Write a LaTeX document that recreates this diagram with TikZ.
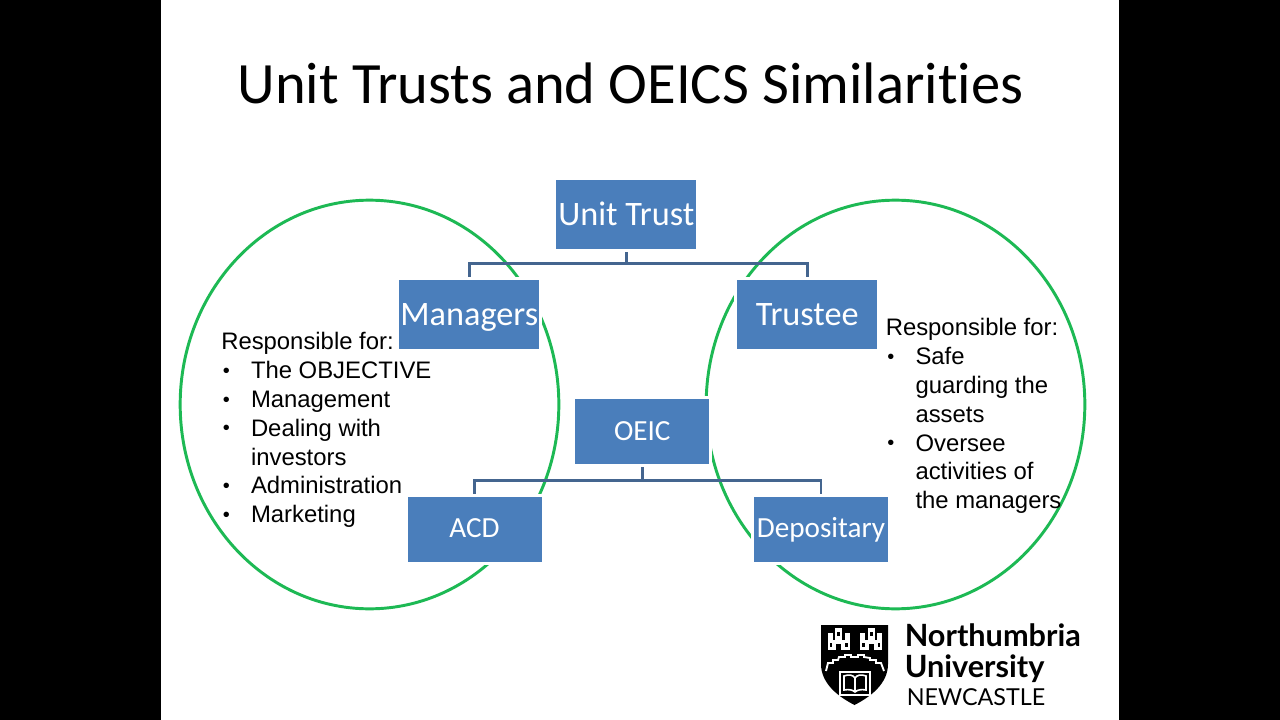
\documentclass[tikz,border=0pt]{standalone}
\usepackage{fontspec}
\setmainfont{Carlito}[Ligatures=NoCommon]
\newfontfamily\arialfont{Liberation Sans}
\newfontfamily\logofont{Lato}
\usetikzlibrary{shapes.geometric}
\definecolor{boxblue}{HTML}{4A7EBB}
\definecolor{linkblue}{HTML}{44658F}
\definecolor{ringgreen}{HTML}{1DB954}
\newcommand{\bul}{\makebox[22.3pt][l]{\hspace{1.2pt}\raisebox{0.9pt}{\fontsize{15}{15}\selectfont•}}}
\tikzset{
  x=0.75pt,y=-0.75pt,
  ring/.style={ellipse,draw=ringgreen,line width=2.2pt,minimum width=284pt,minimum height=306.5pt,inner sep=0pt},
  link/.style={draw=linkblue,line width=2.2pt},
  orgbox/.style={rectangle,fill=boxblue,draw=white,line width=2.25pt,inner sep=0pt,text=white},
  bigbox/.style={orgbox,minimum width=107.25pt,minimum height=54pt,text height=19pt,text depth=1.8pt,font=\fontsize{25.7}{28}\selectfont},
  smallbox/.style={orgbox,minimum width=102.75pt,minimum height=51pt,text height=14pt,text depth=1.4pt,font=\fontsize{21.9}{24}\selectfont},
  note/.style={anchor=north west,align=left,inner sep=0pt,font=\arialfont\fontsize{17.9}{21.65}\selectfont},
  logotext/.style={anchor=base west,inner sep=0pt,text=black},
}
\begin{document}
\begin{tikzpicture}
\useasboundingbox (0,0) rectangle (1280,720);
\fill[black] (0,0) rectangle (1280,720);
\fill[white] (161,0) rectangle (1119,720);

\node[anchor=base,inner sep=0pt,font=\fontsize{43.9}{50}\selectfont] (title) at (630.5,104) {Unit Trusts and OEICS Similarities};

\node[ring] (left) at (369.5,404.5) {};
\node[ring] (right) at (895.5,404.5) {};

\node[bigbox] (ut) at (626.3,214.5) {Unit Trust};
\node[bigbox] (mg) at (469.3,314.5) {Managers};
\node[bigbox] (tr) at (807.3,314.5) {Trustee};
\node[smallbox] (oe) at (642.3,431.75) {OEIC};
\node[smallbox] (ac) at (474.5,529.5) {ACD};
\node[smallbox] (de) at (821,529.5) {Depositary};

\coordinate (j1) at (626.3,263.5);
\coordinate (j2) at (642.3,480.5);
\draw[link] (ut.south) -- (j1);
\draw[link] (j1) -| (mg.north);
\draw[link] (j1) -| (tr.north);
\draw[link] (oe.south) -- (j2);
\draw[link] (j2) -| (ac.north);
\draw[link] (j2) -| (de.north);

\node[note] (ln) at (221,332) {Responsible for:\\
\bul The OBJECTIVE\\
\bul Management\\
\bul Dealing with\\
\hspace*{22.3pt}investors\\
\bul Administration\\
\bul Marketing};
\node[note] (rn) at (885.5,318) {Responsible for:\\
\bul Safe\\
\hspace*{22.3pt}guarding the\\
\hspace*{22.3pt}assets\\
\bul Oversee\\
\hspace*{22.3pt}activities of\\
\hspace*{22.3pt}the managers};

% logo shield
\fill[black] (821,625) -- (888,625) -- (888,664) .. controls (888,684) and (870,697) .. (854.5,705) .. controls (839,697) and (821,684) .. (821,664) -- cycle;
\foreach \cx in {838.5,871}{
  \begin{scope}[shift={(\cx,0)}]
  \fill[white] (-11,640) rectangle (11,650);
  \fill[white] (-3.5,628) rectangle (3.5,641);
  \fill[white] (-11,633) rectangle (-6,641);
  \fill[white] (6,633) rectangle (11,641);
  \fill[black] (-1.5,632) rectangle (1.5,636);
  \fill[black] (-2.5,644) rectangle (2.5,650);
  \fill[black] (-9,643) rectangle (-6.5,647);
  \fill[black] (6.5,643) rectangle (9,647);
  \end{scope}
}
\draw[white,line width=1.4pt] (826,671) -- (828,663) -- (833,663) -- (833,660) -- (838,660) -- (839,657) -- (845,657) -- (845,655) -- (851,655) -- (851,657) -- (858,657) -- (858,655) -- (864,655) -- (864,657) -- (870,658) -- (870,660) -- (876,660) -- (876,663) -- (881,663) -- (884,671);
\draw[white,line width=1.2pt] (840,672) rectangle (870,695);
\draw[white,line width=1.2pt] (844,676) .. controls (849,674) and (853,675) .. (855,678) .. controls (857,675) and (861,674) .. (866,676) -- (866,690) .. controls (861,689) and (857,690) .. (855,692) .. controls (853,690) and (849,689) .. (844,690) -- cycle;
\draw[white,line width=1.2pt] (855,678) -- (855,692);

\node[logotext,font=\logofont\bfseries\fontsize{23}{26}\selectfont] (l1) at (904.5,646) {Northumbria};
\node[logotext,font=\logofont\bfseries\fontsize{23}{26}\selectfont] (l2) at (904.5,677) {University};
\node[logotext,font=\logofont\fontsize{17.5}{20}\selectfont] (l3) at (906.5,705) {NEWCASTLE};
\end{tikzpicture}
\end{document}
